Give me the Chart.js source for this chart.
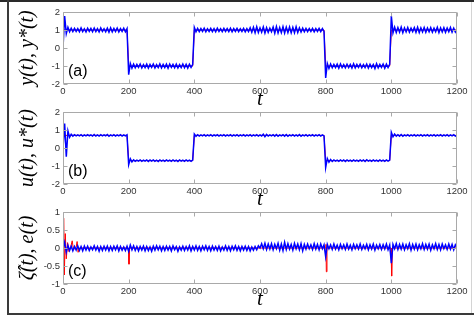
<!DOCTYPE html>
<html>
<head>
<meta charset="utf-8">
<script src="https://cdn.jsdelivr.net/npm/chart.js@4/dist/chart.umd.min.js"></script>
<style>
  html, body { margin: 0; padding: 0; background: #fff; }
  #wrap { position: relative; width: 474px; height: 332px; overflow: hidden; background: #fff; }
  #wrap canvas { position: absolute; left: 0; }
  .rule { position: absolute; }
  .tag { position: absolute; font: 16px 'Liberation Sans', Arial, sans-serif; color: #000; line-height: 18px; }
</style>
</head>
<body>
<div id="wrap">
  <div class="rule" style="left:0;top:0;width:474px;height:2px;background:#2a2a2a"></div>
  <div class="rule" style="left:7px;top:0;width:2px;height:315px;background:#3a3a3a"></div>
  <div class="rule" style="left:7px;top:313px;width:467px;height:2px;background:#3a3a3a"></div>
  <div class="rule" style="left:471px;top:2px;width:1px;height:311px;background:#d4d4d4"></div>
  <canvas id="panelA" width="474" height="110" style="top:0"></canvas>
  <canvas id="panelB" width="474" height="110" style="top:100px"></canvas>
  <canvas id="panelC" width="474" height="110" style="top:200px"></canvas>
  <div class="tag" style="left:68px;top:62px">(a)</div>
  <div class="tag" style="left:68px;top:162px">(b)</div>
  <div class="tag" style="left:68px;top:262px">(c)</div>
</div>
<script>
// Sampling step of the recorded signals (time units)
const STEP = 5;

// Square-wave set points, sampled at the same instants as the outputs
const refTimes = [0, 195, 200, 395, 400, 795, 800, 995, 1000, 1200];
const yRef = [1, 1, -1, -1, 1, 1, -1, -1, 1, 1];
const uRef = [0.7, 0.7, -0.7, -0.7, 0.7, 0.7, -0.7, -0.7, 0.7, 0.7];

// Plant output y(t), one value every STEP
const yOut = [
  0.00, 1.78, 0.80, 1.15, 0.90, 1.10, 0.91, 1.09, 0.92, 1.08,
  0.90, 1.12, 0.91, 1.07, 0.89, 1.10, 0.92, 1.09, 0.90, 1.11,
  0.91, 1.08, 0.89, 1.12, 0.92, 1.07, 0.90, 1.10, 0.88, 1.12,
  0.90, 1.09, 0.91, 1.11, 0.89, 1.08, 0.92, 1.10, 0.90, 1.08,
  -1.48, -0.86, -1.12, -0.90, -1.10, -0.91, -1.08, -0.89, -1.11, -0.92,
  -1.09, -0.90, -1.12, -0.91, -1.08, -0.89, -1.11, -0.92, -1.09, -0.88,
  -1.10, -0.91, -1.09, -0.90, -1.12, -0.89, -1.08, -0.91, -1.10, -0.90,
  -1.11, -0.92, -1.09, -0.89, -1.10, -0.91, -1.12, -0.90, -1.08, -0.92,
  1.14, 0.90, 1.09, 0.91, 1.08, 0.92, 1.10, 0.90, 1.07, 0.92,
  1.09, 0.91, 1.08, 0.90, 1.10, 0.92, 1.07, 0.91, 1.09, 0.92,
  1.08, 0.91, 1.10, 0.90, 1.08, 0.92, 1.09, 0.91, 1.07, 0.92,
  1.09, 0.90, 1.08, 0.91, 1.12, 0.88, 1.15, 0.85, 1.18, 0.86,
  1.12, 0.88, 1.17, 0.83, 1.13, 0.87, 1.10, 0.90, 1.16, 0.82,
  1.19, 0.84, 1.14, 0.85, 1.18, 0.83, 1.16, 0.86, 1.17, 0.84,
  1.15, 0.85, 1.18, 0.86, 1.12, 0.89, 1.10, 0.90, 1.09, 0.91,
  1.08, 0.92, 1.09, 0.90, 1.08, 0.92, 1.09, 0.91, 1.08, 0.92,
  -1.66, -0.86, -1.14, -0.89, -1.10, -0.91, -1.09, -0.90, -1.12, -0.89,
  -1.09, -0.92, -1.10, -0.90, -1.09, -0.91, -1.11, -0.88, -1.10, -0.91,
  -1.08, -0.90, -1.10, -0.92, -1.09, -0.89, -1.11, -0.90, -1.09, -0.92,
  -1.14, -0.87, -1.10, -0.91, -1.08, -0.89, -1.12, -0.90, -1.09, -0.91,
  1.77, 0.84, 1.16, 0.86, 1.14, 0.88, 1.16, 0.85, 1.12, 0.89,
  1.14, 0.88, 1.10, 0.91, 1.13, 0.87, 1.15, 0.86, 1.12, 0.89,
  1.14, 0.87, 1.11, 0.90, 1.13, 0.88, 1.10, 0.90, 1.15, 0.86,
  1.12, 0.89, 1.13, 0.87, 1.11, 0.90, 1.14, 0.88, 1.10, 0.89,
  1.05
];

// Control input u(t)
const uIn = [
  0.00, 1.36, -0.48, 0.95, 0.60, 0.76, 0.66, 0.74, 0.67, 0.73,
  0.67, 0.74, 0.66, 0.73, 0.67, 0.74, 0.68, 0.73, 0.66, 0.75,
  0.67, 0.73, 0.66, 0.74, 0.67, 0.73, 0.68, 0.75, 0.65, 0.73,
  0.67, 0.74, 0.66, 0.73, 0.67, 0.74, 0.66, 0.73, 0.67, 0.73,
  -0.93, -0.60, -0.77, -0.66, -0.74, -0.67, -0.73, -0.66, -0.74, -0.67,
  -0.73, -0.66, -0.75, -0.67, -0.73, -0.66, -0.74, -0.68, -0.75, -0.66,
  -0.73, -0.67, -0.74, -0.66, -0.73, -0.67, -0.74, -0.66, -0.73, -0.68,
  -0.75, -0.66, -0.73, -0.67, -0.74, -0.66, -0.73, -0.67, -0.74, -0.67,
  0.77, 0.65, 0.74, 0.66, 0.73, 0.67, 0.74, 0.66, 0.73, 0.67,
  0.74, 0.66, 0.73, 0.68, 0.74, 0.66, 0.73, 0.67, 0.74, 0.66,
  0.73, 0.67, 0.74, 0.66, 0.73, 0.67, 0.74, 0.66, 0.73, 0.67,
  0.74, 0.66, 0.73, 0.67, 0.74, 0.66, 0.73, 0.67, 0.74, 0.66,
  0.73, 0.67, 0.77, 0.63, 0.75, 0.66, 0.73, 0.67, 0.74, 0.66,
  0.75, 0.65, 0.73, 0.67, 0.74, 0.66, 0.75, 0.65, 0.73, 0.67,
  0.74, 0.66, 0.73, 0.67, 0.75, 0.65, 0.73, 0.67, 0.74, 0.66,
  0.73, 0.67, 0.74, 0.66, 0.73, 0.67, 0.74, 0.66, 0.73, 0.67,
  -1.08, -0.58, -0.79, -0.64, -0.75, -0.66, -0.73, -0.67, -0.74, -0.66,
  -0.73, -0.67, -0.75, -0.66, -0.73, -0.67, -0.74, -0.66, -0.73, -0.67,
  -0.74, -0.66, -0.73, -0.67, -0.75, -0.65, -0.73, -0.67, -0.74, -0.66,
  -0.73, -0.67, -0.74, -0.66, -0.73, -0.67, -0.74, -0.66, -0.73, -0.67,
  0.87, 0.62, 0.77, 0.66, 0.74, 0.66, 0.75, 0.65, 0.73, 0.67,
  0.74, 0.66, 0.73, 0.67, 0.74, 0.66, 0.73, 0.67, 0.74, 0.66,
  0.73, 0.67, 0.74, 0.66, 0.73, 0.67, 0.74, 0.66, 0.73, 0.67,
  0.74, 0.66, 0.73, 0.67, 0.74, 0.66, 0.73, 0.67, 0.74, 0.66,
  0.70
];

// Disturbance estimate ζ̂(t)
const zetaHat = [
  0.00, 0.16, -0.12, 0.07, -0.07, 0.05, -0.08, 0.04, -0.06, 0.06,
  -0.07, 0.04, -0.08, 0.05, -0.06, 0.05, -0.07, 0.03, -0.05, 0.06,
  -0.06, 0.04, -0.09, 0.04, -0.07, 0.05, -0.06, 0.05, -0.08, 0.04,
  -0.07, 0.05, -0.05, 0.06, -0.08, 0.04, -0.06, 0.03, -0.07, 0.05,
  -0.09, 0.08, -0.05, 0.06, -0.07, 0.04, -0.08, 0.04, -0.06, 0.05,
  -0.08, 0.04, -0.07, 0.03, -0.09, 0.05, -0.06, 0.06, -0.05, 0.05,
  -0.08, 0.04, -0.07, 0.05, -0.06, 0.04, -0.08, 0.06, -0.05, 0.04,
  -0.09, 0.03, -0.06, 0.05, -0.07, 0.04, -0.06, 0.06, -0.08, 0.04,
  -0.06, 0.06, -0.07, 0.04, -0.08, 0.05, -0.05, 0.06, -0.07, 0.04,
  -0.08, 0.05, -0.06, 0.04, -0.07, 0.05, -0.08, 0.03, -0.06, 0.06,
  -0.07, 0.04, -0.08, 0.05, -0.05, 0.06, -0.07, 0.04, -0.08, 0.04,
  -0.06, 0.05, -0.07, 0.04, -0.08, 0.03, -0.06, 0.04, -0.05, 0.06,
  0.00, 0.12, -0.02, 0.13, -0.04, 0.11, -0.03, 0.12, -0.05, 0.10,
  -0.02, 0.13, -0.06, 0.11, -0.07, 0.16, -0.04, 0.12, -0.03, 0.10,
  -0.06, 0.13, -0.02, 0.11, -0.05, 0.12, -0.08, 0.10, -0.03, 0.11,
  -0.02, 0.09, -0.04, 0.12, -0.03, 0.10, -0.05, 0.11, -0.02, 0.09,
  -0.24, 0.10, -0.02, 0.09, -0.04, 0.11, -0.03, 0.08, -0.05, 0.10,
  -0.02, 0.09, -0.04, 0.11, -0.03, 0.08, -0.05, 0.10, -0.02, 0.09,
  -0.03, 0.11, -0.04, 0.08, -0.02, 0.10, -0.05, 0.09, -0.03, 0.11,
  -0.06, 0.08, -0.02, 0.10, -0.04, 0.09, -0.03, 0.11, -0.05, 0.08,
  -0.42, 0.10, -0.02, 0.12, -0.04, 0.10, -0.03, 0.11, -0.05, 0.09,
  -0.02, 0.12, -0.06, 0.10, -0.03, 0.11, -0.05, 0.09, -0.02, 0.12,
  -0.04, 0.10, -0.03, 0.11, -0.06, 0.09, -0.02, 0.12, -0.04, 0.10,
  -0.05, 0.11, -0.02, 0.09, -0.04, 0.11, -0.03, 0.10, -0.05, 0.09,
  0.02
];

// Tracking error e(t): flat except around the set-point switches
const eTimes = [0, 2, 4, 7, 10, 14, 18, 24, 28, 32, 40, 43, 46, 50,
                199, 201, 203, 799, 801, 802, 804, 999, 1001, 1003, 1200];
const eVals = [0, 0.83, -0.75, 0.40, -0.30, 0.15, -0.10, 0.05, 0.20, -0.05, 0.02, 0.18, -0.12, 0,
               0, -0.45, 0, 0, 0.10, -0.66, 0, 0, -0.78, 0, 0];

const BLUE = '#0000ff';
const RED = '#ff0000';
const TICK_FONT = { family: "'Liberation Sans', Arial, sans-serif", size: 9.5 };
const MATH_FONT = "'Liberation Serif', 'DejaVu Serif', serif";
const plain = v => String(+v.toFixed(2));

const sampled = arr => arr.map((v, i) => ({ x: i * STEP, y: v }));
const paired = (xs, ys) => xs.map((x, i) => ({ x, y: ys[i] }));

// Axes box with inward ticks on all four sides
const boxTicks = {
  id: 'boxTicks',
  afterDatasetsDraw(chart) {
    const { ctx, chartArea: a, scales: { x, y } } = chart;
    const L = Math.round(a.left) + 0.5, R = Math.round(a.right) - 0.5;
    const T = Math.round(a.top) + 0.5, B = Math.round(a.bottom) - 0.5;
    const len = 4;
    ctx.save();
    ctx.strokeStyle = '#a9a9a9';
    ctx.lineWidth = 1;
    ctx.beginPath();
    ctx.rect(L, T, R - L, B - T);
    x.ticks.forEach(t => {
      const p = Math.round(x.getPixelForValue(t.value)) + 0.5;
      ctx.moveTo(p, B); ctx.lineTo(p, B - len);
      ctx.moveTo(p, T); ctx.lineTo(p, T + len);
    });
    y.ticks.forEach(t => {
      const p = Math.round(y.getPixelForValue(t.value)) + 0.5;
      ctx.moveTo(L, p); ctx.lineTo(L + len, p);
      ctx.moveTo(R, p); ctx.lineTo(R - len, p);
    });
    ctx.stroke();
    ctx.restore();
  }
};

function panel(id, datasets, yMin, yMax, yStep, yTitle) {
  return new Chart(document.getElementById(id), {
    type: 'line',
    data: { datasets },
    plugins: [boxTicks],
    options: {
      responsive: false,
      animation: false,
      devicePixelRatio: 1,
      layout: { padding: { top: 12, right: 17, left: 0, bottom: 0 } },
      plugins: { legend: { display: false }, tooltip: { enabled: false } },
      elements: { point: { radius: 0 }, line: { borderWidth: 1, tension: 0 } },
      scales: {
        x: {
          type: 'linear', min: 0, max: 1200,
          grid: { display: false, drawTicks: false, tickLength: 0 },
          border: { display: false },
          ticks: { stepSize: 200, color: '#333', font: TICK_FONT, padding: 2, maxRotation: 0, autoSkip: false, callback: plain },
          title: { display: true, text: 't', color: '#000',
                   font: { family: MATH_FONT, size: 21, style: 'italic', lineHeight: 1 },
                   padding: { top: 0, bottom: 0 } },
          afterFit(s) { s.height = 26; }
        },
        y: {
          min: yMin, max: yMax,
          grid: { display: false, drawTicks: false, tickLength: 0 },
          border: { display: false },
          ticks: { stepSize: yStep, color: '#333', font: TICK_FONT, padding: 3, callback: plain },
          title: { display: true, text: yTitle, color: '#000',
                   font: { family: MATH_FONT, size: 20, style: 'italic', lineHeight: 1 },
                   padding: { top: 18, bottom: 0 } },
          afterFit(s) { s.width = 63; }
        }
      }
    }
  });
}

panel('panelA', [
  { data: sampled(yOut), borderColor: BLUE, borderWidth: 1.5 },
  { data: paired(refTimes, yRef), borderColor: RED }
], -2, 2, 1, 'y(t), y*(t)');

panel('panelB', [
  { data: sampled(uIn), borderColor: BLUE, borderWidth: 1.5 },
  { data: paired(refTimes, uRef), borderColor: RED }
], -2, 2, 1, 'u(t), u*(t)');

panel('panelC', [
  { data: sampled(zetaHat), borderColor: BLUE, borderWidth: 1.5 },
  { data: paired(eTimes, eVals), borderColor: RED }
], -1, 1, 0.5, 'ζ\u0302(t), e(t)');
</script>
</body>
</html>
